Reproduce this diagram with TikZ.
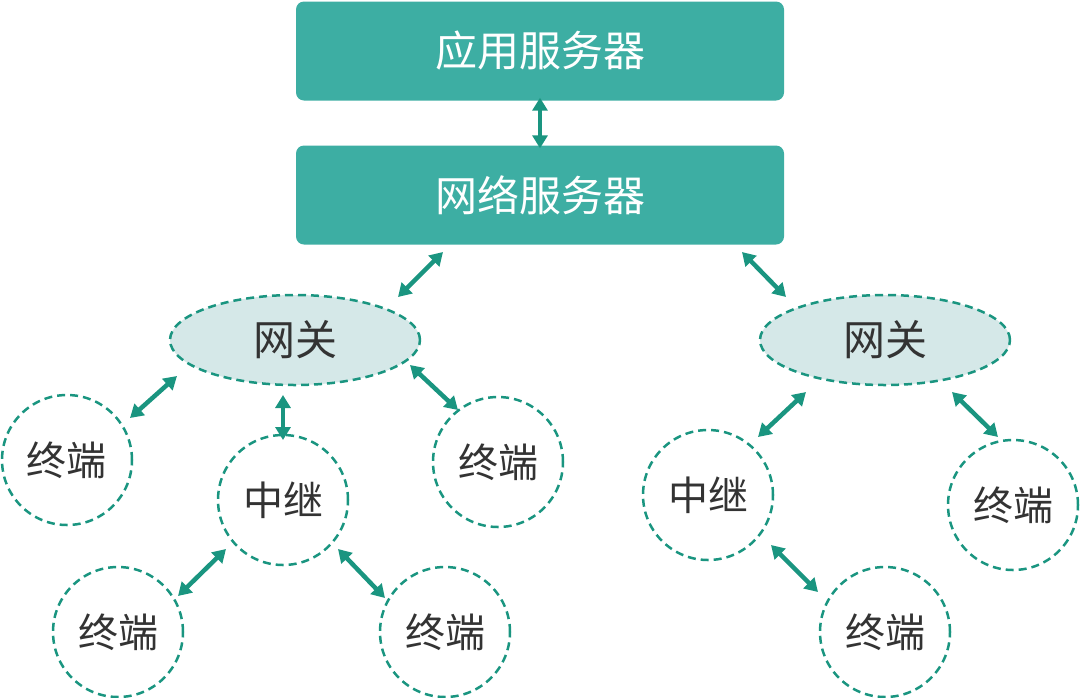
\documentclass[tikz,border=0pt]{standalone}
\usepackage{fontspec}
\setmainfont{Noto Sans CJK SC}
\usetikzlibrary{shapes.geometric,arrows.meta}
\definecolor{teal1}{HTML}{3DAEA3}
\definecolor{teal2}{HTML}{1A9580}
\definecolor{pale}{HTML}{D5E8E8}
\begin{document}
\begin{tikzpicture}[x=1pt,y=-1pt,
 box/.style={rectangle,rounded corners=8pt,fill=teal1,minimum width=488pt,minimum height=99pt,text=white,font=\fontsize{42}{48}\selectfont},
 gw/.style={ellipse,draw=teal2,line width=2.5pt,dash pattern=on 8pt off 5pt,fill=pale,minimum width=250pt,minimum height=90pt,inner sep=0pt,font=\fontsize{42}{48}\selectfont,text=black!80},
 nd/.style={circle,draw=teal2,line width=2.5pt,dash pattern=on 8pt off 5pt,minimum size=130pt,inner sep=0pt,font=\fontsize{40}{48}\selectfont,text=black!80},
 ar/.style={{Triangle[length=13pt,width=15pt]}-{Triangle[length=13pt,width=15pt]},line width=4.5pt,teal2}]
\useasboundingbox (0,0) rectangle (1080,697);
\node[box] (app) at (540,51) {应用服务器};
\node[box] (net) at (540,195) {网络服务器};
\node[gw] (g1) at (295,340) {网关};
\node[gw] (g2) at (885,340) {网关};
\node[nd] (t1) at (67,460) {终端};
\node[nd] (r1) at (283,500) {中继};
\node[nd] (t2) at (498,462) {终端};
\node[nd] (t3) at (118,632) {终端};
\node[nd] (t4) at (445,632) {终端};
\node[nd] (r2) at (708,495) {中继};
\node[nd] (t5) at (1013,505) {终端};
\node[nd] (t6) at (885,632) {终端};
\coordinate (a1) at (443,252); \coordinate (a2) at (398,297);
\coordinate (b1) at (742,252); \coordinate (b2) at (786,297);
\draw[ar] ([yshift=3pt]app.south) -- ([yshift=-3pt]net.north);
\draw[ar] (a1) -- (a2);
\draw[ar] (b1) -- (b2);
\draw[ar] (177,376) -- (130,418);
\draw[ar] (283,395) -- (283,440);
\draw[ar] (410,365) -- (458,410);
\draw[ar] (226,549) -- (178,596);
\draw[ar] (338,549) -- (385,598);
\draw[ar] (806,392) -- (758,437);
\draw[ar] (952,392) -- (998,437);
\draw[ar] (771,545) -- (818,592);
\end{tikzpicture}
\end{document}
